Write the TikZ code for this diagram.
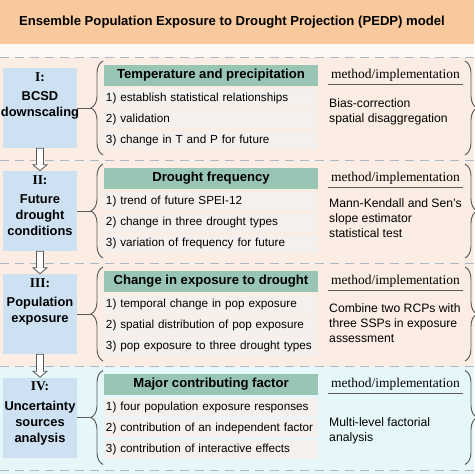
\documentclass[tikz,border=0pt]{standalone}
\usepackage{fontspec}
\setmainfont{Liberation Serif}
\setsansfont{Liberation Sans}
\usepackage{xcolor}
\usepackage{tikz}
\usetikzlibrary{positioning,calc,decorations.pathreplacing}

\definecolor{titlebg}{HTML}{F7C99C}
\definecolor{gapbg}{HTML}{FEF9F5}
\definecolor{peachbg}{HTML}{FBEDE4}
\definecolor{cyanbg}{HTML}{E6F7F9}
\definecolor{stageblue}{HTML}{CDE1F2}
\definecolor{headteal}{HTML}{98C5B4}
\definecolor{rowfill}{HTML}{F4F0EE}
\definecolor{sepcol}{HTML}{A9B9C6}
\definecolor{bracecol}{HTML}{5A5A5A}

\newcommand{\stagenum}[1]{{\rmfamily\bfseries\fontsize{11.5}{13.7}\selectfont #1}}

\begin{document}
\begin{tikzpicture}[x=0.03cm, y=-0.03cm, font=\sffamily,
  stagebox/.style={fill=stageblue, minimum width=2.22cm, minimum height=2.4cm, inner sep=0pt},
  stagetext/.style={align=center, inner sep=0pt, font=\sffamily\bfseries\fontsize{11}{13.7}\selectfont},
  headbox/.style={fill=headteal, minimum width=6.42cm, minimum height=0.63cm, inner sep=0pt,
    font=\sffamily\bfseries\fontsize{11.2}{13}\selectfont},
  itembox/.style={fill=rowfill, minimum height=0.57cm, text width=6.3cm, inner xsep=0.06cm,
    inner ysep=0pt, align=left, font=\sffamily\fontsize{10}{12}\selectfont},
  methodhead/.style={minimum width=4.05cm, minimum height=0.54cm, inner sep=0pt,
    font=\rmfamily\fontsize{11.5}{13}\selectfont},
  methodtext/.style={anchor=north west, align=left, inner sep=0pt,
    font=\sffamily\fontsize{10.4}{12.8}\selectfont},
  underline/.style={draw=bracecol, line width=0.8pt},
  sepline/.style={draw=sepcol, line width=0.8pt, dash pattern=on 0.27cm off 0.18cm},
  curly/.style={draw=bracecol, line width=0.8pt, decorate, decoration={brace, amplitude=0.36cm}},
  tieline/.style={draw=bracecol, line width=0.8pt},
  hollowarrow/.style={draw=bracecol, fill=white, line width=0.7pt}]

  \useasboundingbox (0,0) rectangle (474,474);

  \fill[titlebg] (0,0) rectangle (474,43.5);
  \fill[gapbg] (0,43.5) rectangle (474,57);
  \fill[peachbg] (0,57) rectangle (474,366.5);
  \fill[cyanbg] (0,366.5) rectangle (474,474);

  \node[font=\sffamily\bfseries\fontsize{11.2}{13}\selectfont] (title) at (232,22)
    {Ensemble Population Exposure to Drought Projection (PEDP) model};

  \draw[sepline] (0,57) -- (474,57);
  \draw[sepline] (0,160) -- (474,160);
  \draw[sepline] (0,263) -- (474,263);
  \draw[sepline] (0,366.5) -- (474,366.5);
  \draw[sepline] (0,470) -- (474,470);

  % stage boxes
  \node[stagebox] (s1) at (40,108) {};
  \node[stagebox] (s2) at (40,211) {};
  \node[stagebox] (s3) at (40,314) {};
  \node[stagebox] (s4) at (40,417.5) {};

  \node[stagetext, below=0.135cm of s1.north] (st1) {\stagenum{I:}\\[3pt]BCSD\\downscaling};
  \node[stagetext, below=0.135cm of s2.north] (st2) {\stagenum{II:}\\[3pt]Future\\drought\\conditions};
  \node[stagetext, below=0.135cm of s3.north] (st3) {\stagenum{III:}\\[3pt]Population\\exposure};
  \node[stagetext, below=0.135cm of s4.north] (st4) {\stagenum{IV:}\\[3pt]Uncertainty\\sources\\analysis};

  \draw[hollowarrow] let \p1=(s1.south), \p2=(s2.north) in
    (\x1-1.05mm,\y1) -- (\x1+1.05mm,\y1) -- (\x1+1.05mm,\y2+1.8mm) -- (\x1+2.1mm,\y2+1.8mm)
    -- (\x1,\y2) -- (\x1-2.1mm,\y2+1.8mm) -- (\x1-1.05mm,\y2+1.8mm) -- cycle;
  \draw[hollowarrow] let \p1=(s2.south), \p2=(s3.north) in
    (\x1-1.05mm,\y1) -- (\x1+1.05mm,\y1) -- (\x1+1.05mm,\y2+1.8mm) -- (\x1+2.1mm,\y2+1.8mm)
    -- (\x1,\y2) -- (\x1-2.1mm,\y2+1.8mm) -- (\x1-1.05mm,\y2+1.8mm) -- cycle;
  \draw[hollowarrow] let \p1=(s3.south), \p2=(s4.north) in
    (\x1-1.05mm,\y1) -- (\x1+1.05mm,\y1) -- (\x1+1.05mm,\y2+1.8mm) -- (\x1+2.1mm,\y2+1.8mm)
    -- (\x1,\y2) -- (\x1-2.1mm,\y2+1.8mm) -- (\x1-1.05mm,\y2+1.8mm) -- cycle;

  % braces
  \coordinate (bt1) at (91,108);
  \coordinate (bt2) at (91,211);
  \coordinate (bt3) at (91,314);
  \coordinate (bt4) at (91,417.5);
  \draw[curly] (103,155) -- (103,61);
  \draw[curly] (103,258) -- (103,164);
  \draw[curly] (103,361) -- (103,267);
  \draw[curly] (103,464.5) -- (103,370.5);
  \draw[tieline] (s1.east) -- (bt1);
  \draw[tieline] (s2.east) -- (bt2);
  \draw[tieline] (s3.east) -- (bt3);
  \draw[tieline] (s4.east) -- (bt4);
  \draw[curly] (465,61) -- (465,155);
  \draw[curly] (465,164) -- (465,258);
  \draw[curly] (465,267) -- (465,361);
  \draw[curly] (465,370.5) -- (465,464.5);

  % tasks
  \node[headbox] (h1) at (211,75) {Temperature and precipitation};
  \node[itembox] (r11) at (211,98) {1) establish statistical relationships};
  \node[itembox] (r12) at (211,119) {2) validation};
  \node[itembox] (r13) at (211,140) {3) change in T and P for future};

  \node[headbox] (h2) at (211,178) {Drought frequency};
  \node[itembox] (r21) at (211,201) {1) trend of future SPEI-12};
  \node[itembox] (r22) at (211,222) {2) change in three drought types};
  \node[itembox] (r23) at (211,243) {3) variation of frequency for future};

  \node[headbox] (h3) at (211,281) {Change in exposure to drought};
  \node[itembox] (r31) at (211,304) {1) temporal change in pop exposure};
  \node[itembox] (r32) at (211,325) {2) spatial distribution of pop exposure};
  \node[itembox] (r33) at (211,346) {3) pop exposure to three drought types};

  \node[headbox] (h4) at (211,384.5) {Major contributing factor};
  \node[itembox] (r41) at (211,407.5) {1) four population exposure responses};
  \node[itembox] (r42) at (211,428.5) {2) contribution of an independent factor};
  \node[itembox] (r43) at (211,449.5) {3) contribution of interactive effects};

  % methods
  \node[methodhead] (mh1) at (395.5,75) {method/implementation};
  \node[methodhead] (mh2) at (395.5,178) {method/implementation};
  \node[methodhead] (mh3) at (395.5,281) {method/implementation};
  \node[methodhead] (mh4) at (395.5,384.5) {method/implementation};
  \draw[underline] (mh1.south west) -- (mh1.south east);
  \draw[underline] (mh2.south west) -- (mh2.south east);
  \draw[underline] (mh3.south west) -- (mh3.south east);
  \draw[underline] (mh4.south west) -- (mh4.south east);

  \node[methodtext] (mt1) at (329,98) {Bias-correction\\spatial disaggregation};
  \node[methodtext] (mt2) at (329,198) {Mann-Kendall and Sen's\\slope estimator\\statistical test};
  \node[methodtext] (mt3) at (329,303) {Combine two RCPs with\\three SSPs in exposure\\assessment};
  \node[methodtext] (mt4) at (329,417) {Multi-level factorial\\analysis};
\end{tikzpicture}
\end{document}
